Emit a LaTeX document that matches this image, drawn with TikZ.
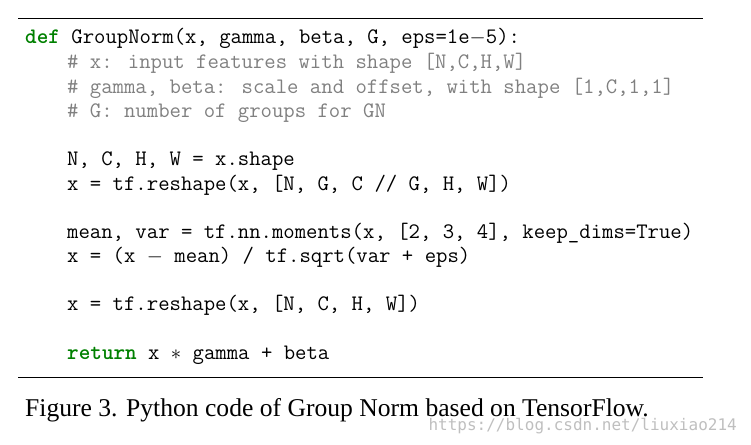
\documentclass[tikz,border=0pt]{standalone}
\usepackage{fontspec}
\setmainfont{Liberation Serif}
\newfontfamily\wmfont{DejaVu Sans Mono}
\definecolor{kw}{RGB}{0,128,0}
\definecolor{cm}{RGB}{128,128,128}
\begin{document}
\begin{tikzpicture}[x=1pt,y=1pt,
  code/.style={anchor=base west,inner sep=0pt,font=\fontsize{22.1}{24}\ttfamily},
  cmt/.style={code,text=cm}]
\useasboundingbox (0,0) rectangle (751,-444);
\draw[line width=0.9pt] (18,-18) -- (703,-18);
\draw[line width=0.9pt] (18,-377) -- (703,-377);
\node[code] (l1) at (25,-44) {\textcolor{kw}{\bfseries def} GroupNorm(x, gamma, beta, G, eps=1e$-$5):};
\node[cmt] (l2) at (67,-68) {\# x: input features with shape [N,C,H,W]};
\node[cmt] (l3) at (67,-93) {\# gamma, beta: scale and offset, with shape [1,C,1,1]};
\node[cmt] (l4) at (67,-117) {\# G: number of groups for GN};
\node[code] (l5) at (67,-165) {N, C, H, W = x.shape};
\node[code] (l6) at (67,-190) {x = tf.reshape(x, [N, G, C // G, H, W])};
\node[code] (l7) at (67,-238) {mean, var = tf.nn.moments(x, [2, 3, 4], keep\_dims=True)};
\node[code] (l8) at (67,-262) {x = (x $-$ mean) / tf.sqrt(var + eps)};
\node[code] (l9) at (67,-310) {x = tf.reshape(x, [N, C, H, W])};
\node[code] (l10) at (67,-359) {\textcolor{kw}{\bfseries return} x $*$ gamma + beta};
\node[anchor=base west,inner sep=0pt,font=\fontsize{25.6}{28}\selectfont] (cap) at (25,-416) {Figure 3. Python code of Group Norm based on TensorFlow.};
\node[anchor=base east,inner sep=0pt,text=black!25,font=\fontsize{16}{18}\wmfont] (wm) at (737,-430) {https://blog.csdn.net/liuxiao214};
\end{tikzpicture}
\end{document}
